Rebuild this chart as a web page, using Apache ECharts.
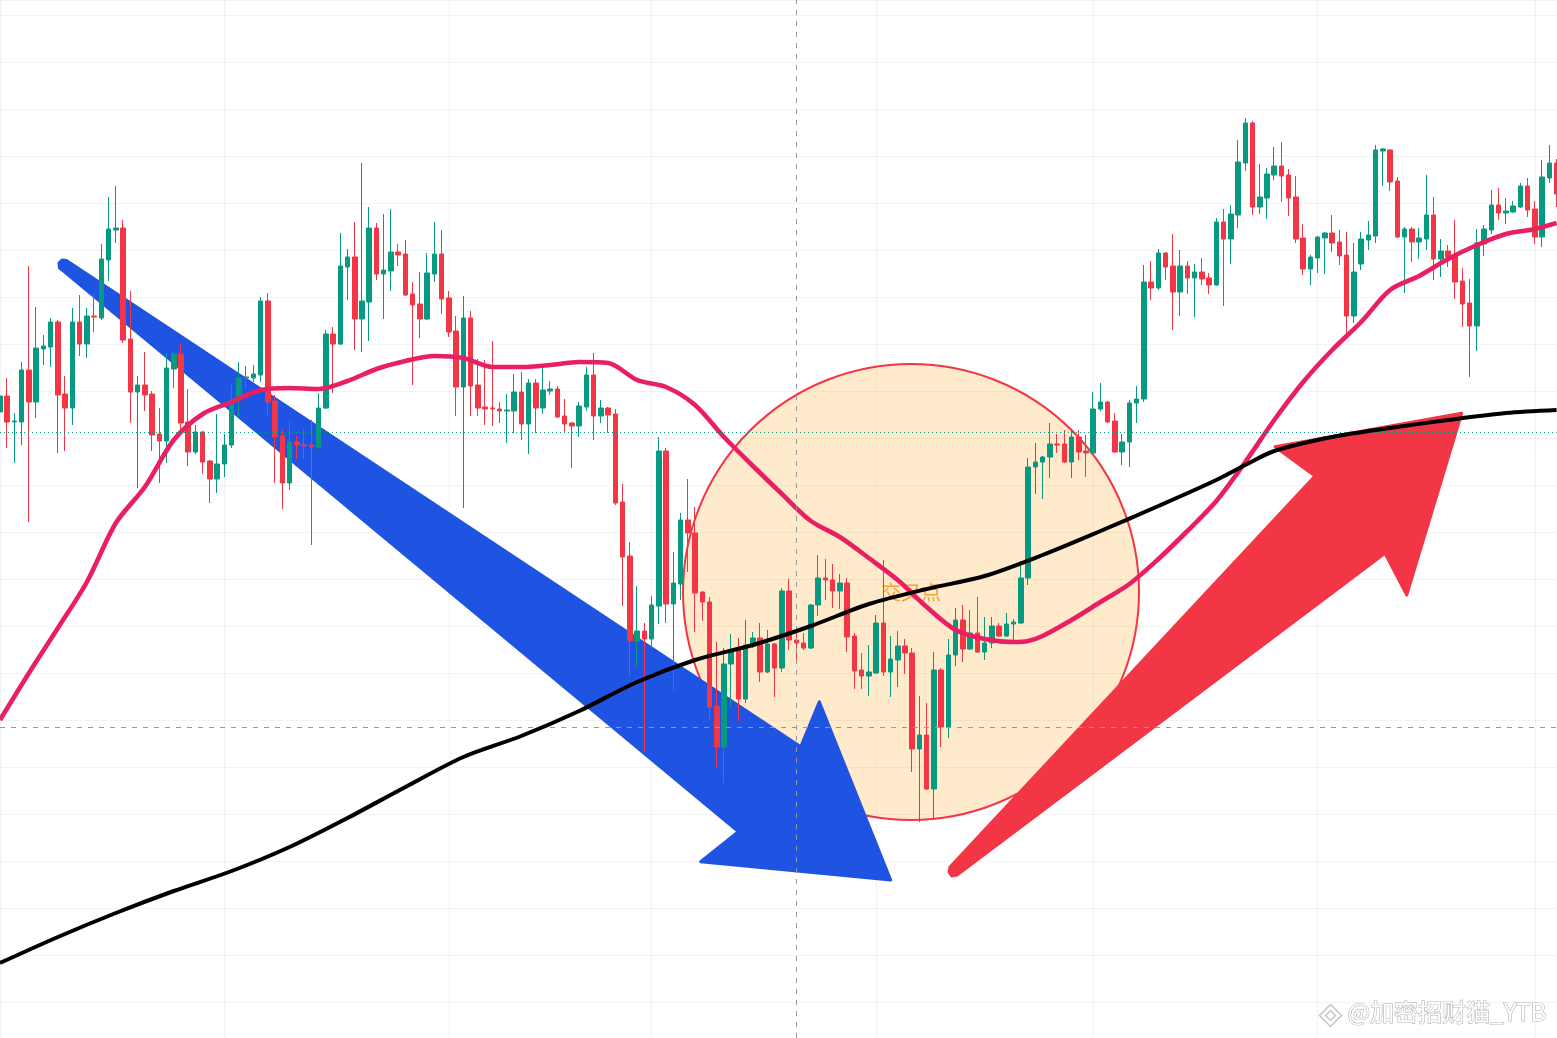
<!DOCTYPE html>
<html>
<head>
<meta charset="utf-8">
<script src="https://cdn.jsdelivr.net/npm/echarts@6/dist/echarts.min.js"></script>
<style>
html,body{margin:0;padding:0;background:#fff;}
#chart{width:1557px;height:1038px;}
</style>
</head>
<body>
<div id="chart"></div>
<script>
// ---- categories: daily candles, 2022-12-01 .. 2023-07-04 ----
const monthSpans = [['2022-12',31],['2023-01',31],['2023-02',28],['2023-03',31],['2023-04',30],['2023-05',31],['2023-06',30],['2023-07',4]];
const dates = [];
monthSpans.forEach(([m, n]) => { for (let d = 1; d <= n; d++) dates.push(m + '-' + String(d).padStart(2, '0')); });

// ---- OHLC values ----
const open = [63.7,65.3,62.7,62.7,67.9,64.7,70.0,70.2,72.7,65.5,64.1,72.7,70.5,73.3,73.1,78.9,81.9,82.1,71.0,65.7,66.4,65.5,61.5,60.8,68.0,69.5,62.7,59.7,61.7,58.8,57.0,58.5,60.4,64.9,67.1,67.1,67.4,74.8,64.8,61.3,56.6,60.7,60.4,60.4,60.2,64.1,71.5,70.5,78.2,79.2,73.0,74.7,82.1,77.5,77.8,79.7,79.5,75.5,74.5,73.0,77.5,79.5,75.1,71.8,66.2,73.1,66.4,64.2,64.1,64.0,63.8,63.8,65.7,62.5,66.6,64.1,65.8,66.0,63.3,62.6,62.3,64.2,67.4,63.3,64.1,63.5,54.7,49.3,40.8,41.8,41.0,44.3,59.8,44.5,46.5,52.9,51.6,45.7,44.7,34.3,30.2,38.5,39.9,35.0,40.3,41.1,37.7,40.5,38.1,45.8,40.9,40.6,40.1,44.4,47.1,46.9,45.8,46.6,41.3,37.9,37.3,37.6,42.6,37.7,38.9,40.3,39.6,30.0,31.4,26.0,37.9,32.2,39.4,42.9,40.0,41.6,39.7,40.6,42.3,41.3,42.5,42.6,47.1,58.2,58.7,59.2,60.5,60.5,58.7,61.2,59.8,59.6,64.0,64.7,62.8,59.7,60.7,64.6,65.0,76.7,76.1,79.6,78.3,75.7,78.3,77.1,77.7,77.1,76.4,82.7,81.0,83.4,88.6,92.6,84.2,85.1,87.4,88.3,87.4,85.2,81.1,78.0,79.1,81.1,81.6,80.7,79.4,73.3,78.5,80.9,81.3,89.8,89.9,86.8,81.2,82.0,80.7,81.0,83.4,79.0,79.8,79.3,76.8,74.6,72.3,80.5,81.9,84.4,83.6,83.7,84.2,86.3,84.0,81.2,87.1,88.6];
const close = [65.3,62.7,62.8,67.9,64.7,70.1,70.3,72.7,65.4,64.1,72.7,70.5,73.3,73.2,79.0,82.0,82.1,70.9,65.7,66.4,65.4,61.4,60.8,68.1,69.5,62.6,59.7,61.7,58.7,57.0,58.5,60.4,64.9,67.1,67.2,67.5,74.8,64.7,61.2,56.6,60.7,60.4,60.3,60.2,64.1,71.5,70.5,78.3,79.2,73.0,74.8,82.1,77.5,77.9,79.7,79.4,75.4,74.4,73.0,77.6,79.5,75.0,71.7,66.2,73.1,66.3,64.1,64.0,64.0,63.8,63.9,65.7,62.5,66.6,64.1,65.9,66.0,63.2,62.5,62.3,64.3,67.4,63.3,64.1,63.4,54.6,49.2,40.8,41.8,41.0,44.4,59.8,44.5,46.6,52.9,51.6,45.6,44.7,34.2,30.2,38.5,39.9,35.0,40.4,41.1,37.7,40.5,38.1,45.8,40.9,40.6,40.1,44.4,47.1,46.9,45.8,46.6,41.2,37.8,37.3,37.7,42.6,37.7,39.0,40.3,39.6,30.0,31.4,26.0,37.9,32.2,39.4,42.9,40.0,41.6,39.7,40.6,42.3,41.3,42.5,42.7,47.1,58.2,58.7,59.2,60.5,60.4,58.7,61.2,59.7,59.6,64.0,64.7,62.7,59.7,60.7,64.6,65.0,76.7,76.1,79.6,78.2,75.7,78.3,77.1,77.7,77.0,76.4,82.7,81.0,83.5,88.7,92.6,84.2,85.2,87.5,88.3,87.3,85.1,81.0,78.0,79.2,81.2,81.6,80.6,79.3,73.3,77.7,81.0,81.4,89.9,90.0,86.7,81.2,82.0,80.7,81.1,83.4,79.0,79.8,79.2,76.7,74.5,72.3,80.6,82.0,84.4,83.6,83.8,84.3,86.3,83.9,81.2,87.2,88.6,85.5];
const low = [63.1,60.1,58.6,60.4,52.7,63.1,68.4,68.2,59.6,59.8,62.4,69.3,69.1,71.7,72.9,76.8,80.6,70.6,62.6,56.1,63.8,59.8,56.6,58.6,66.1,61.7,58.3,59.5,57.5,54.6,55.6,57.2,60.1,63.2,66.0,66.7,66.7,63.4,56.6,54.0,55.9,59.0,59.0,50.4,60.0,64.0,65.6,70.4,74.9,69.9,69.7,70.8,76.9,73.0,75.8,78.3,75.3,66.4,71.1,72.9,76.7,73.5,71.2,63.3,54.1,63.3,63.3,62.4,62.3,62.6,60.6,61.6,60.9,59.5,61.6,63.5,65.4,63.1,61.6,58.1,61.2,63.8,60.9,62.6,61.6,54.4,44.3,37.2,38.2,29.7,40.1,42.5,42.6,35.9,44.9,47.7,41.7,42.8,33.0,28.2,26.6,34.2,32.8,34.6,40.1,36.7,37.6,35.2,37.7,39.9,38.9,39.9,40.0,43.3,44.9,44.1,44.0,39.7,36.0,36.0,35.3,37.5,37.3,35.2,36.2,37.5,27.7,22.7,25.9,22.9,30.2,31.1,38.3,38.7,39.9,39.6,38.9,40.1,41.2,41.2,40.5,42.5,46.4,55.5,55.0,57.1,59.6,58.6,57.1,58.9,57.2,59.5,63.8,62.6,59.6,58.4,58.2,62.6,64.7,74.9,75.9,76.9,71.9,73.3,75.5,73.2,76.4,75.5,76.3,74.3,78.5,82.1,87.8,83.4,83.5,83.0,86.9,84.7,83.3,80.6,77.4,76.4,77.6,77.5,79.7,78.4,71.6,72.6,77.9,79.9,80.6,86.3,85.8,81.1,75.6,78.7,79.0,79.9,76.9,77.2,78.2,75.0,72.2,67.2,69.8,79.3,81.5,82.9,82.5,83.6,84.1,83.2,80.5,80.2,86.6,84.2];
const high = [65.9,67.1,63.6,68.7,78.3,74.2,71.4,73.1,72.9,67.3,74.1,75.4,74.1,75.5,80.5,85.2,86.3,82.9,75.8,67.3,69.7,65.8,64.1,69.6,69.8,70.5,66.0,62.4,61.8,58.9,63.5,61.5,66.5,68.7,68.3,68.4,75.2,75.6,65.4,61.9,62.7,61.3,62.0,62.9,65.6,71.9,72.2,81.6,80.0,82.7,88.6,84.2,82.6,83.5,84.0,80.5,80.9,76.7,77.7,79.6,82.7,81.9,75.8,73.3,75.3,73.8,69.0,68.9,70.8,64.7,65.5,67.5,67.7,67.0,67.0,68.4,66.8,66.3,65.0,62.7,64.7,68.2,69.6,64.9,64.2,64.0,56.5,50.7,46.3,42.6,45.3,61.2,60.1,49.7,53.6,57.0,54.2,45.8,45.2,40.7,40.1,41.5,41.1,42.9,41.7,42.6,41.9,40.6,46.1,47.0,41.9,41.6,44.5,49.4,49.0,48.5,47.5,47.1,41.6,39.6,40.4,43.4,48.9,41.3,41.8,41.0,40.1,35.3,34.6,39.7,38.1,41.0,44.1,44.4,43.9,45.2,43.2,43.2,42.6,43.6,43.0,48.8,59.1,60.6,59.3,62.6,61.5,61.9,62.0,61.9,61.4,65.7,66.6,64.8,63.6,61.5,64.9,66.3,78.4,78.8,80.0,79.7,81.5,79.9,78.8,78.5,79.1,77.6,83.1,84.0,84.4,90.9,93.1,92.8,88.5,88.1,90.2,90.7,88.0,87.3,82.5,79.4,81.3,81.7,83.4,81.9,81.7,80.6,81.7,82.8,90.4,90.1,90.0,87.2,82.2,82.2,82.1,87.4,85.2,81.0,80.4,82.9,78.1,77.0,82.0,82.4,85.9,86.1,85.1,84.8,86.6,87.1,84.8,88.9,90.4,89.0];

// ---- moving averages: [candle index, value] ----
const maFast = [[0,32.9],[4,37.6],[8,42.1],[12,46.7],[16,52.6],[20,56.2],[24,60.9],[28,63.5],[32,64.7],[36,65.9],[40,66.1],[44,66.0],[48,66.8],[52,68.0],[56,68.8],[60,69.3],[64,69.1],[68,68.2],[72,68.2],[76,68.4],[80,68.7],[84,68.6],[88,66.9],[92,66.2],[96,64.4],[100,61.2],[104,58.3],[108,55.5],[112,52.8],[116,51.2],[120,49.1],[124,46.9],[128,44.2],[132,41.9],[136,41.0],[140,40.7],[142,40.8],[144,41.3],[148,42.9],[152,44.7],[156,46.5],[160,49.0],[164,51.8],[168,54.8],[172,58.7],[176,62.9],[180,66.7],[184,69.9],[188,72.7],[192,75.9],[196,77.3],[200,79.0],[204,80.4],[208,81.5],[212,82.0],[215,82.6]];
const maSlow = [[0,8.6],[8,11.2],[16,13.6],[24,15.8],[32,17.8],[40,20.2],[48,23.1],[56,26.2],[64,29.2],[72,31.3],[80,33.8],[88,36.7],[96,38.9],[104,40.4],[112,42.3],[120,44.5],[128,46.0],[136,47.3],[144,49.4],[152,51.8],[160,54.3],[168,56.9],[172,58.4],[176,59.8],[184,61.2],[192,62.1],[200,62.9],[208,63.6],[215,63.9]];

// ---- annotations, in [candle index, price] ----
const blueArrow = [[9.185,78.85],[110.594,30.23],[113.163,34.73],[123.025,16.9],[96.782,18.73],[101.975,21.73],[8.771,77.8],[8.218,78.1],[8.149,78.6],[8.564,78.9]];
const redArrow = [[131.215,18.2],[181.63,57.3],[176.105,60.23],[201.892,63.57],[194.296,45.4],[191.298,49.57],[132.182,17.4],[131.492,17.3],[131.077,17.7]];
const circleCenter = [125.83, 45.7];
const circleEdge = [125.83, 68.5];
const circleLabel = '交叉点';
const crossX = 110;
const crossY = 32.2;
const lastPriceLine = 61.7;
const watermark = '@加密招财猫_YTB';

const candles = open.map((o, i) => [o, close[i], low[i], high[i]]);

const chart = echarts.init(document.getElementById('chart'), null, {renderer: 'canvas'});
const gridColor = 'rgba(42,46,57,0.06)';

function polygonRenderer(points, color) {
  return function (params, api) {
    return {
      type: 'polygon',
      shape: {points: points.map(p => api.coord(p))},
      style: {fill: color, stroke: color, lineWidth: 3, lineJoin: 'round'}
    };
  };
}

chart.setOption({
  animation: false,
  backgroundColor: '#ffffff',
  grid: {left: 0, top: 0, width: 1556.6, height: 1049, containLabel: false, outerBoundsMode: 'none'},
  xAxis: [
    {
      type: 'category', data: dates, boundaryGap: false,
      axisLine: {show: false}, axisTick: {show: false}, axisLabel: {show: false},
      splitLine: {show: true, interval: (i, v) => v.endsWith('-01'), lineStyle: {color: gridColor, width: 1}}
    },
    {type: 'value', min: 0, max: dates.length - 1, show: false, splitLine: {show: false}}
  ],
  yAxis: {
    type: 'value', min: 0, max: 104.9, interval: 4.7, scale: false,
    axisLine: {show: false}, axisTick: {show: false}, axisLabel: {show: false},
    splitLine: {show: true, lineStyle: {color: gridColor, width: 1}}
  },
  series: [
    {
      type: 'custom', name: 'circle', xAxisIndex: 1, yAxisIndex: 0, z: 1, silent: true,
      data: [[0, 0]],
      renderItem: function (params, api) {
        const c = api.coord(circleCenter), e = api.coord(circleEdge);
        const r = Math.hypot(e[0] - c[0], e[1] - c[1]);
        return {
          type: 'group',
          children: [
            {type: 'circle', shape: {cx: c[0], cy: c[1], r: r}, style: {fill: 'rgba(255,152,0,0.2)', stroke: '#F23645', lineWidth: 2}},
            {type: 'text', x: c[0], y: c[1], style: {text: circleLabel, fill: '#F7A030', font: '20px "Noto Sans CJK SC"', align: 'center', verticalAlign: 'middle'}}
          ]
        };
      }
    },
    {type: 'custom', name: 'down', xAxisIndex: 1, yAxisIndex: 0, z: 2, silent: true, data: [[0, 0]], renderItem: polygonRenderer(blueArrow, '#1F53E1')},
    {type: 'custom', name: 'up', xAxisIndex: 1, yAxisIndex: 0, z: 2, silent: true, data: [[0, 0]], renderItem: polygonRenderer(redArrow, '#F23645')},
    {
      type: 'candlestick', name: 'price', xAxisIndex: 0, yAxisIndex: 0, z: 3,
      data: candles, barWidth: 5,
      itemStyle: {color: '#089981', color0: '#F23645', borderColor: '#089981', borderColor0: '#F23645', borderWidth: 1}
    },
    {
      type: 'line', name: 'MA fast', xAxisIndex: 1, yAxisIndex: 0, z: 4,
      data: maFast, smooth: 0.3, showSymbol: false, symbol: 'none',
      lineStyle: {color: '#E91E63', width: 4.6}
    },
    {
      type: 'line', name: 'MA slow', xAxisIndex: 1, yAxisIndex: 0, z: 5,
      data: maSlow, smooth: 0.3, showSymbol: false, symbol: 'none',
      lineStyle: {color: '#000000', width: 4},
      markLine: {
        silent: true, symbol: ['none', 'none'], label: {show: false},
        data: [
          {xAxis: crossX, lineStyle: {color: '#9598A1', type: [5, 6], width: 1}},
          {yAxis: crossY, lineStyle: {color: '#9598A1', type: [5, 6], width: 1}},
          {yAxis: lastPriceLine, lineStyle: {color: '#089981', type: [1, 3], width: 1}}
        ]
      }
    }
  ],
  graphic: [
    {type: 'polygon', left: 1317, top: 1002, shape: {points: [[11,0],[22,11],[11,22],[0,11]]}, style: {fill: 'none', stroke: '#c4c4c4', lineWidth: 1.5}, z: 100},
    {type: 'polygon', left: 1323, top: 1008, shape: {points: [[5,0],[10,5],[5,10],[0,5]]}, style: {fill: 'none', stroke: '#c4c4c4', lineWidth: 1.5}, z: 100},
    {type: 'text', left: 1347, top: 999, style: {text: watermark, font: '24px "Noto Sans CJK SC"', fill: '#ffffff', stroke: '#b5b5b5', lineWidth: 1.2}, z: 100}
  ]
});
</script>
</body>
</html>
